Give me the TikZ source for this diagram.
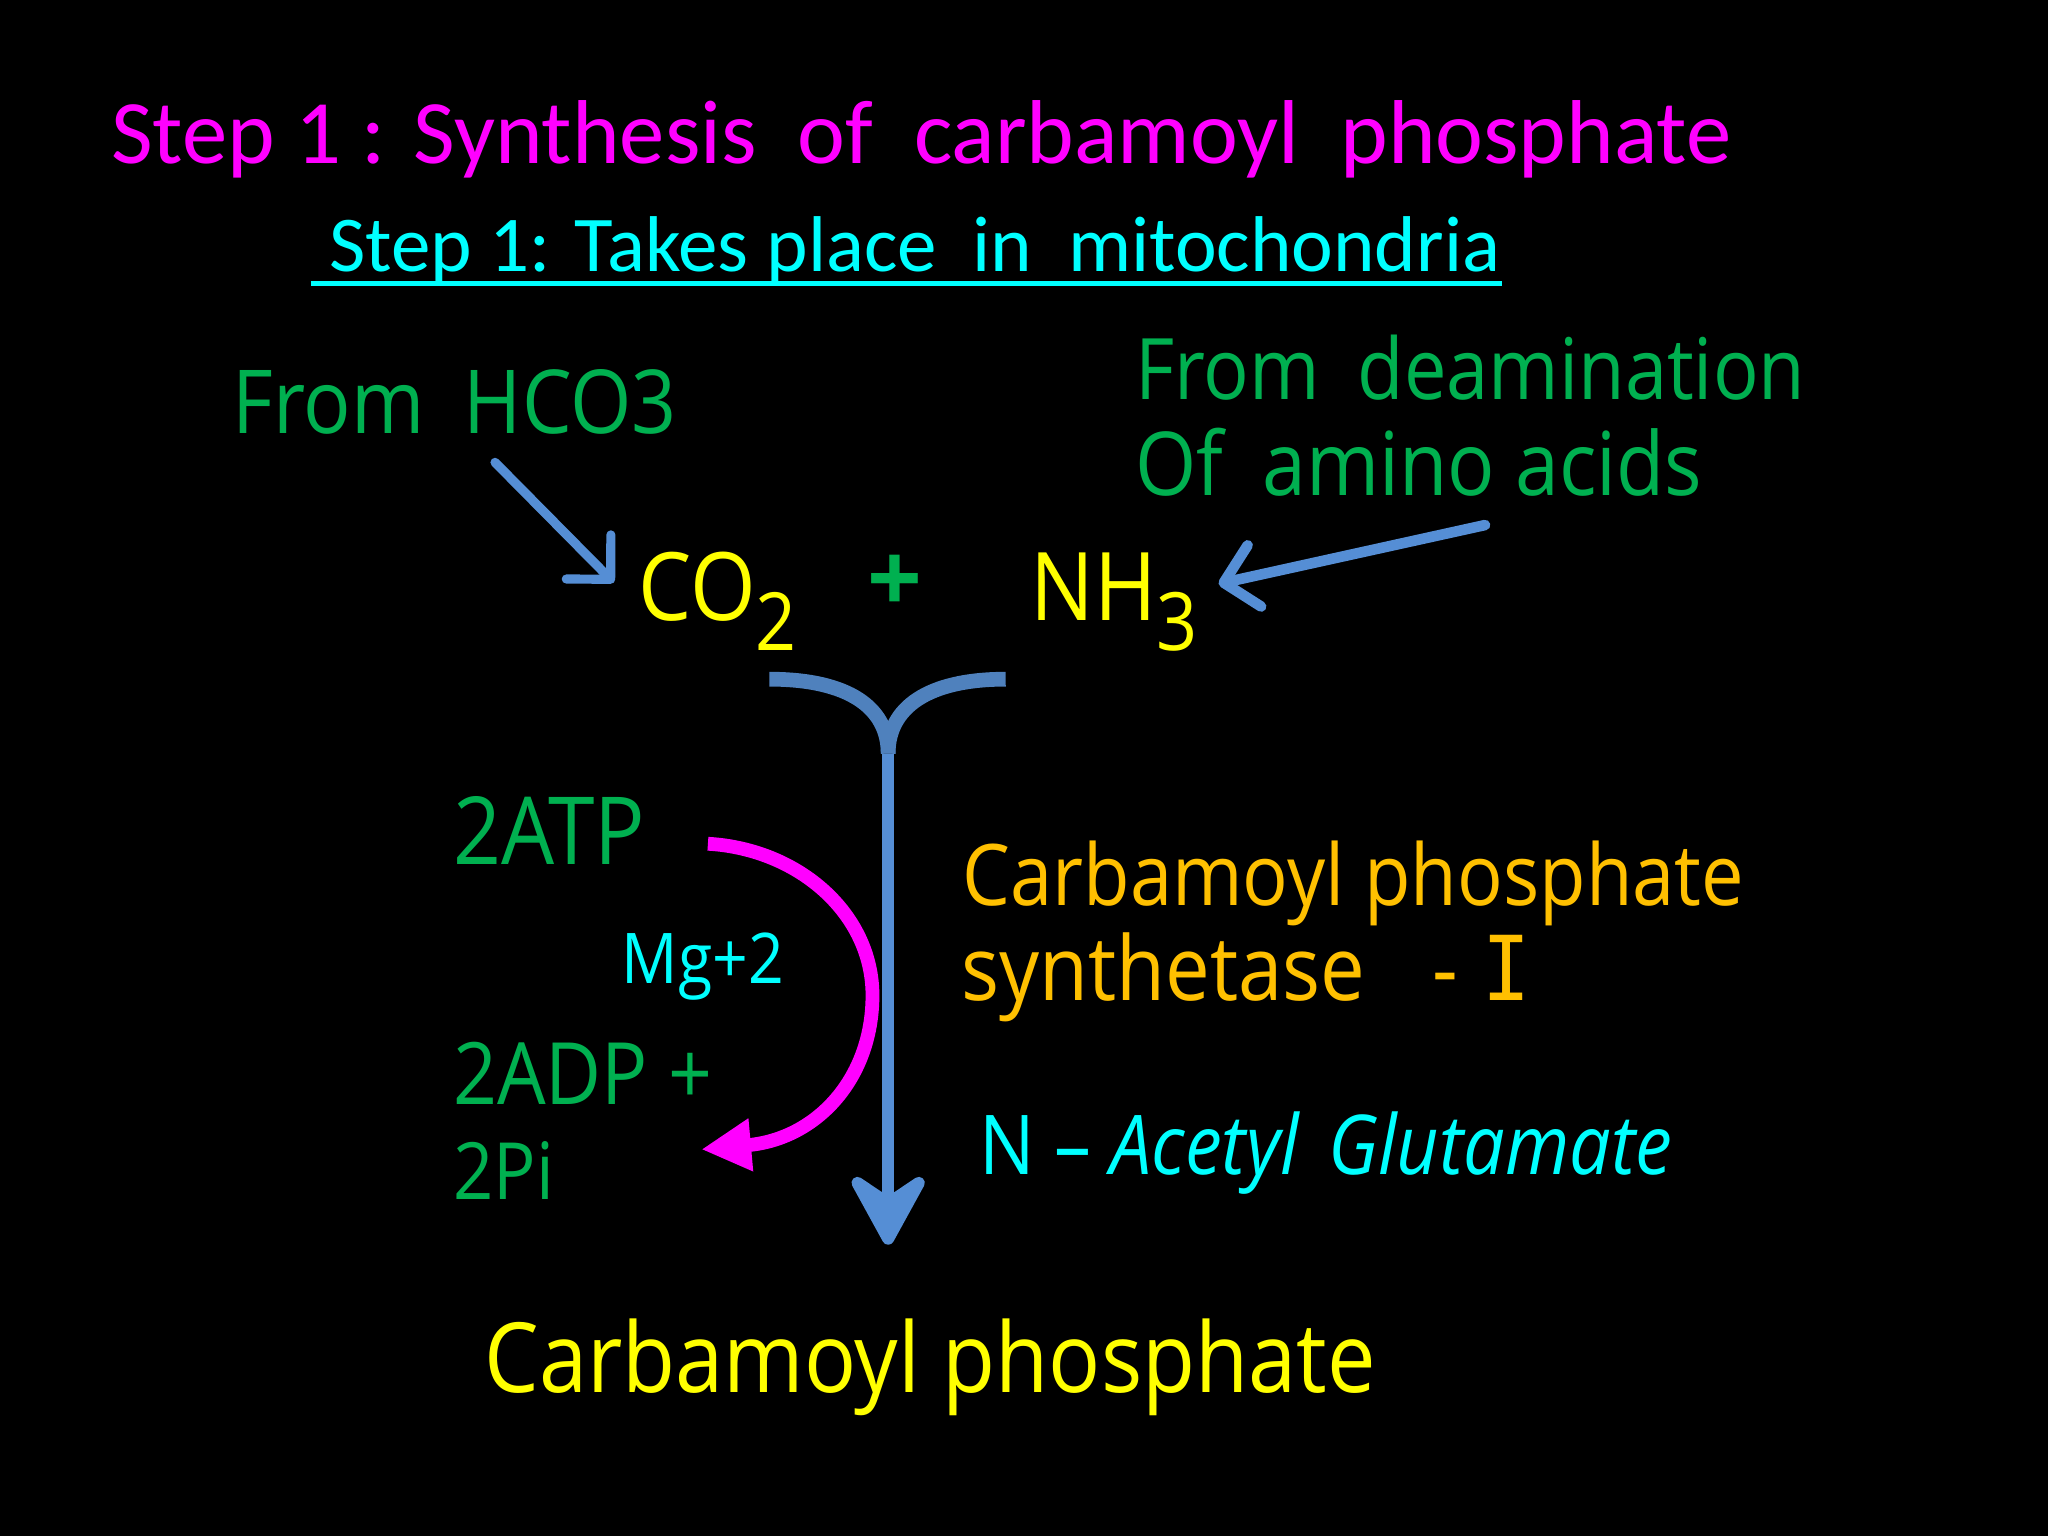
\documentclass[tikz,border=0pt]{standalone}
\usepackage{graphicx}
\usepackage{fontspec}
\setmainfont{Open Sans}
\newfontfamily\titlefont{Carlito}
\newfontfamily\barfont{DejaVu Sans Mono}
\usetikzlibrary{arrows.meta}
\definecolor{cmag}{HTML}{FF00FF}
\definecolor{ccyan}{HTML}{00FFFF}
\definecolor{cgreen}{HTML}{00B050}
\definecolor{cyellow}{HTML}{FFFF00}
\definecolor{corange}{HTML}{FFC000}
\definecolor{cblue}{HTML}{558ED5}
\definecolor{cfork}{HTML}{4F81BD}
\newcommand{\fitw}[2]{\scalebox{1}[1.12]{\resizebox{#1}{!}{#2}}}
\newcommand{\fitt}[2]{\resizebox{#1}{!}{#2}}
\tikzset{
  txt/.style={inner sep=0pt, outer sep=0pt, anchor=base west},
  bluearrow/.style={draw=cblue, line width=2pt, line cap=round,
     -{Straight Barb[length=0.24cm,width=0.48cm,round]}},
  forkline/.style={draw=cfork, line width=3.2pt},
  mainarrow/.style={draw=cblue, line width=2.6pt,
     -{Stealth[length=0.66cm,width=0.72cm,inset=0.24cm,round]}},
  magarrow/.style={draw=cmag, line width=3pt,
     -{Triangle[length=0.38cm,width=0.38cm]}},
}
\begin{document}
\begin{tikzpicture}[x=0.01cm,y=-0.01cm]
\fill[black] (0,0) rectangle (1568,1176);
\useasboundingbox (0,0) rectangle (1568,1176);

% titles
\node[txt, text=cmag] (title) at (85,125) {\titlefont\fitt{12.4cm}{Step 1 : Synthesis\ \ of\ \ carbamoyl\ \ phosphate}};
\node[txt, text=ccyan] (subtitle) at (252,208) {\titlefont\fitt{8.96cm}{Step 1: Takes place\ \ in\ \ mitochondria}};
\coordinate (ulL) at (238,217);
\coordinate (ulR) at (1150,217);
\draw[ccyan, line width=1.1pt] (ulL) -- (ulR);

% sources
\node[txt, text=cgreen] (fromhco) at (178,332) {\fitw{3.40cm}{From\hspace{0.5em}HCO3}};
\node[txt, text=cgreen] (fromdeam) at (869,306) {\fitw{5.13cm}{From\hspace{0.5em}deamination}};
\node[txt, text=cgreen] (ofamino) at (869,379) {\fitw{4.34cm}{Of\hspace{0.5em}amino acids}};

% reactants
\node[txt, text=cyellow] (co2) at (489,475) {\fitw{1.21cm}{CO\raisebox{-0.32em}{\scalebox{0.85}{2}}}};
\node[inner sep=0pt, text=cgreen] (plus) at (685,447) {\resizebox{0.42cm}{!}{\bfseries +}};
\node[txt, text=cyellow] (nh3) at (789,475) {\fitw{1.28cm}{NH\raisebox{-0.32em}{\scalebox{0.85}{3}}}};

% source arrows
\coordinate (a1s) at (379,354);
\coordinate (a1e) at (470,446);
\coordinate (a2s) at (1137,402);
\coordinate (a2e) at (933,447);
\draw[bluearrow] (a1s) -- (a1e);
\draw[bluearrow, line width=2.3pt] (a2s) -- (a2e);

% fork and main arrow
\coordinate (forkL) at (589,520);
\coordinate (forkR) at (770,520);
\coordinate (join) at (680,577);
\coordinate (prodtip) at (680,953);
\draw[forkline] (forkL) .. controls (650,520) and (680,542) .. (join);
\draw[forkline] (forkR) .. controls (710,520) and (680,542) .. (join);
\draw[mainarrow] (join) -- (prodtip);

% ATP side
\node[txt, text=cgreen] (atp) at (347,662) {\fitw{1.47cm}{2ATP}};
\node[txt, text=ccyan] (mg) at (476,753) {\fitw{1.24cm}{Mg+2}};
\node[txt, text=cgreen] (adp) at (347,846) {\fitw{1.98cm}{2ADP +}};
\node[txt, text=cgreen] (pi) at (347,918) {\fitw{0.77cm}{2Pi}};
\coordinate (magS) at (542,646);
\coordinate (magM) at (668,762);
\coordinate (magE) at (537,880);
\draw[magarrow] (magS) .. controls (612,650) and (668,700) .. (magM)
   .. controls (668,826) and (625,872) .. (magE);

% enzyme side
\node[txt, text=corange] (enz1) at (737,693) {\fitw{5.98cm}{Carbamoyl phosphate}};
\node[txt, text=corange] (enz2) at (736,766) {\fitw{3.09cm}{synthetase}};
\node[txt, text=corange] (enz3) at (1097,766) {\scalebox{1}[1.12]{\fontsize{17.4}{20}\selectfont -\hspace{0.3em}{\barfont I}}};
\node[txt, text=ccyan] (nag) at (750,899) {\fitw{5.30cm}{N – {\itshape Acetyl\hspace{0.4em}Glutamate}}};

% product
\node[txt, text=cyellow] (product) at (371,1066) {\fitw{6.82cm}{Carbamoyl phosphate}};
\end{tikzpicture}
\end{document}
